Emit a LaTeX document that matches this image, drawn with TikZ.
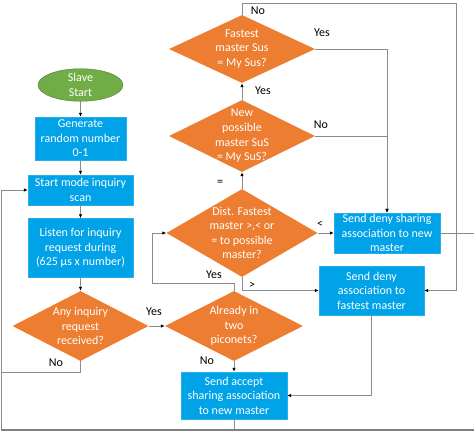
\documentclass[tikz,border=0pt]{standalone}
\usepackage{fontspec}
\setmainfont{Carlito}
\usepackage{tikz}
\usetikzlibrary{arrows.meta}
\usetikzlibrary{shapes}
\definecolor{boxblue}{RGB}{0,162,232}
\definecolor{decorange}{RGB}{237,125,49}
\definecolor{startgreen}{RGB}{112,173,71}
\definecolor{linegray}{RGB}{140,140,140}

\begin{document}
\begin{tikzpicture}[x=1pt, y=-1pt, font=\fontsize{12}{14.6}\selectfont,
        start_style/.style={ellipse,draw=startgreen!70!black,fill=startgreen,text=white,minimum width=85pt,minimum height=32pt,inner sep=0pt,align=center},
        box_style/.style={rectangle,draw=boxblue!85!white,fill=boxblue,text=white,inner sep=0pt,align=center},
        decision_style/.style={diamond,fill=decorange,text=white,inner sep=-6pt,shape aspect=1.8,align=center},
        edge_style/.style={draw=linegray, line width=0.8pt, -{Latex[length=4pt,width=3.5pt,color=black]}},
        line_style/.style={draw=linegray, line width=0.8pt},
        label_style/.style={text=black,inner sep=0pt}]

        \useasboundingbox (0,0) rectangle (474,432);

        \node [start_style](start) at (80.5,85) {Slave\\Start};

        \node [box_style,minimum width=91pt,minimum height=43pt](rand) at (80.5,138.5) {Generate\\random number\\0-1};

        \node [box_style,minimum width=105pt,minimum height=30pt](scan) at (80.5,190) {Start mode inquiry\\scan};

        \node [box_style,minimum width=105pt,minimum height=59pt](listen) at (80.5,248) {Listen for inquiry\\request during\\(625 µs x number)};

        \node [decision_style,minimum width=136pt,minimum height=70pt](any) at (80.5,326) {Any inquiry\\request\\received?};

        \node [decision_style,minimum width=138pt,minimum height=70pt](alr) at (234,326) {Already in\\two\\piconets?};

        \node [box_style,minimum width=106pt,minimum height=47pt](acc) at (234,395.5) {Send accept\\sharing association\\to new master};

        \node [decision_style,minimum width=151pt,minimum height=88pt](dist) at (242,233) {Dist. Fastest\\master >,< or\\= to possible\\master?};

        \node [decision_style,minimum width=146pt,minimum height=72pt](np) at (242,136) {New\\possible\\master SuS\\= My SuS?};

        \node [decision_style,minimum width=146pt,minimum height=68pt](fast) at (242,49) {Fastest\\master Sus\\= My Sus?};

        \node [box_style,minimum width=106pt,minimum height=40pt](dnm) at (387,233) {Send deny sharing\\association to new\\master};

        \node [box_style,minimum width=105pt,minimum height=49pt](dfm) at (371.5,290.5) {Send deny\\association to\\fastest master};

        % branch labels
        \node [label_style](l_any_yes) at (154,312) {Yes};
        \node [label_style](l_any_no) at (56,363) {No};
        \node [label_style](l_alr_no) at (207,361) {No};
        \node [label_style](l_alr_yes) at (214,275) {Yes};
        \node [label_style](l_gt) at (252,285) {>};
        \node [label_style](l_lt) at (320,224) {<};
        \node [label_style](l_eq) at (220,183) {=};
        \node [label_style](l_np_yes) at (263,91) {Yes};
        \node [label_style](l_np_no) at (321,125) {No};
        \node [label_style](l_fast_yes) at (322,33) {Yes};
        \node [label_style](l_fast_no) at (258,11) {No};

        \coordinate (nl) at (1,372);
        \coordinate (bl) at (1,430);
        \coordinate (br) at (474,430);
        \coordinate (yl) at (152,283);
        \coordinate (tr) at (456,3);
        \coordinate (er) at (474,233);

        \draw [edge_style] (start) -- (rand);

        \draw [edge_style] (rand) -- (scan);

        \draw [edge_style] (scan) -- (listen);

        \draw [edge_style] (listen) -- (any);

        \draw [edge_style] (any) -- (alr);

        \draw [line_style] (any.south) |- (nl);

        \draw [edge_style] (acc.south) |- (bl) |- (scan.west);

        \draw [line_style, line width=2pt, draw=gray] (bl) -- (br);

        \draw [edge_style] (alr) -- (acc);

        \draw [edge_style] (alr.north) |- (yl) |- (dist.west);

        \draw [edge_style] (dist.south) |- (dfm.west);

        \draw [edge_style] (dist.east) -- (dnm.west);

        \draw [edge_style] (dist) -- (np);

        \draw [edge_style] (np) -- (fast);

        \draw [edge_style] (np.east) -| (dnm.north);

        \draw [edge_style] (fast.east) -| (dnm.north);

        \draw [edge_style] (fast.north) |- (tr) |- (dfm.east);

        \draw [line_style] (dnm.east) -- (er);

        \draw [edge_style] (dfm.south) |- (acc.east);

        \end{tikzpicture}
\end{document}
